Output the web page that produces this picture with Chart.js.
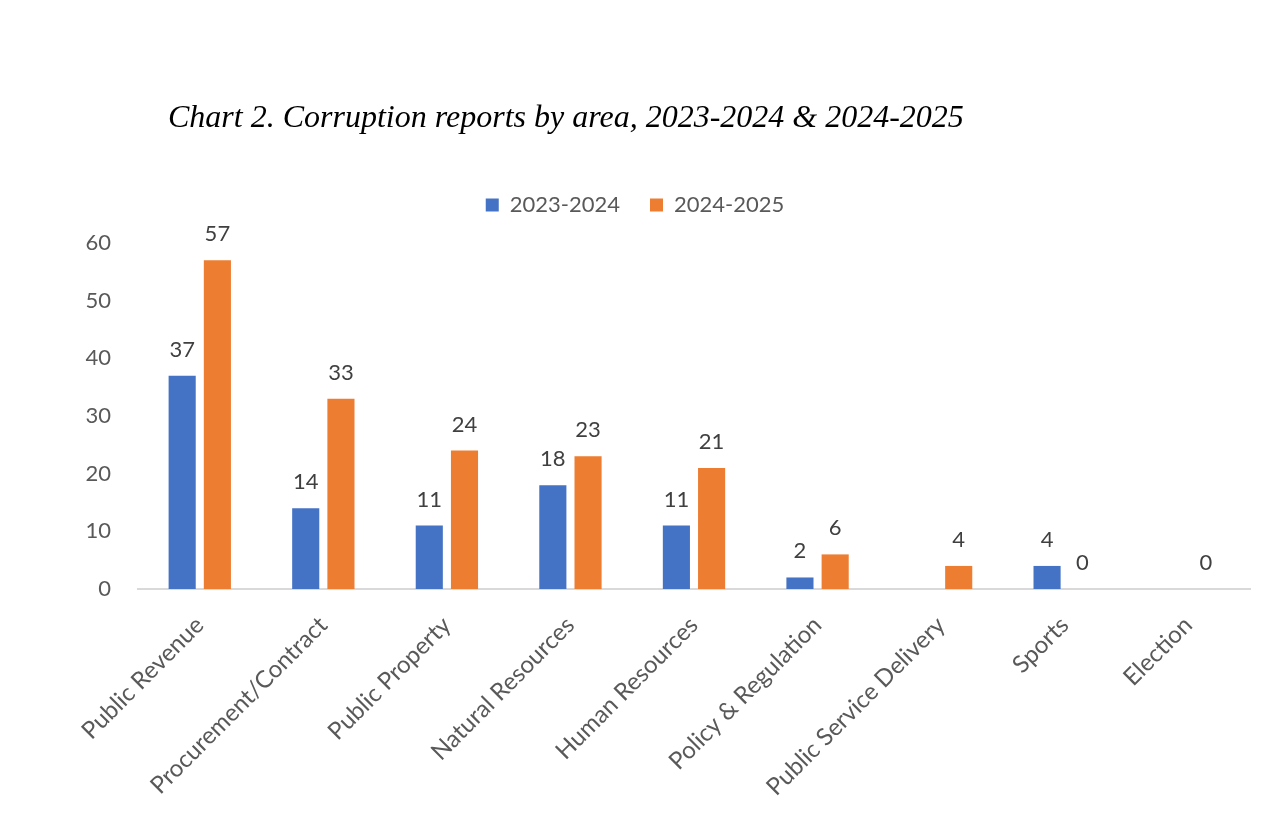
<!DOCTYPE html>
<html>
<head>
<meta charset="utf-8">
<script src="https://cdn.jsdelivr.net/npm/chart.js@4.4.0/dist/chart.umd.min.js"></script>
<style>
  body { margin: 0; background: #fff; }
  #wrap { position: relative; width: 1284px; height: 833px; }
  #title {
    position: absolute; left: 168px; top: 98px;
    font-family: "Liberation Serif", "Times New Roman", serif;
    font-style: italic; font-size: 32px; color: #000; white-space: nowrap;
  }
</style>
</head>
<body>
<div id="wrap">
  <div id="title">Chart 2. Corruption reports by area, 2023-2024 &amp; 2024-2025</div>
  <canvas id="reportsChart" width="1284" height="833"></canvas>
</div>
<script>
const categories = [
  "Public Revenue",
  "Procurement/Contract",
  "Public Property",
  "Natural Resources",
  "Human Resources",
  "Policy & Regulation",
  "Public Service Delivery",
  "Sports",
  "Election",
];
const reports2023 = [37, 14, 11, 18, 11, 2, null, 4, null];
const reports2024 = [57, 33, 24, 23, 21, 6, 4, 0, 0];
const yTicks = [0, 10, 20, 30, 40, 50, 60];

const FONT = "Lato, 'Open Sans', sans-serif";

// draw the value above each bar
const barLabels = {
  id: "barLabels",
  afterDatasetsDraw(chart) {
    const ctx = chart.ctx;
    ctx.save();
    ctx.font = "22px " + FONT;
    ctx.fillStyle = "#404040";
    ctx.textAlign = "center";
    ctx.textBaseline = "alphabetic";
    chart.data.datasets.forEach(function (ds, i) {
      const meta = chart.getDatasetMeta(i);
      meta.data.forEach(function (bar, j) {
        const v = ds.data[j];
        if (v === null || v === undefined) return;
        ctx.fillText(String(v), bar.x, bar.y - 19);
      });
    });
    ctx.restore();
  },
};

// extra space between legend and plot
const legendGap = {
  id: "legendGap",
  beforeInit(chart) {
    const fit = chart.legend.fit;
    chart.legend.fit = function () {
      fit.bind(chart.legend)();
      this.height += 17;
    };
  },
};

const ctx = document.getElementById("reportsChart").getContext("2d");
new Chart(ctx, {
  type: "bar",
  data: {
    labels: categories,
    datasets: [
      {
        label: "2023-2024",
        data: reports2023,
        backgroundColor: "#4472C4",
        barPercentage: 0.77,
        categoryPercentage: 0.57,
      },
      {
        label: "2024-2025",
        data: reports2024,
        backgroundColor: "#ED7D31",
        barPercentage: 0.77,
        categoryPercentage: 0.57,
      },
    ],
  },
  options: {
    responsive: false,
    animation: false,
    layout: {
      padding: { left: 20, right: 34, top: 164, bottom: 0 },
    },
    plugins: {
      legend: {
        position: "top",
        labels: {
          boxWidth: 13,
          boxHeight: 13,
          padding: 30,
          color: "#595959",
          font: { family: FONT, size: 22 },
        },
      },
      title: { display: false },
      tooltip: { enabled: false },
    },
    scales: {
      x: {
        grid: { display: false },
        border: { display: true, color: "#D9D9D9", width: 2 },
        afterFit(axis) {
          axis.height = 244;
        },
        ticks: {
          color: "#595959",
          font: { family: FONT, size: 24 },
          maxRotation: 45,
          minRotation: 45,
          padding: 14,
        },
      },
      y: {
        min: 0,
        max: 60,
        afterBuildTicks(axis) {
          axis.ticks = yTicks.map((v) => ({ value: v }));
        },
        afterFit(axis) {
          axis.width = 118;
        },
        grid: { display: false },
        border: { display: false },
        ticks: {
          color: "#595959",
          font: { family: FONT, size: 22 },
          padding: 19,
        },
      },
    },
  },
  plugins: [barLabels, legendGap],
});
</script>
</body>
</html>
